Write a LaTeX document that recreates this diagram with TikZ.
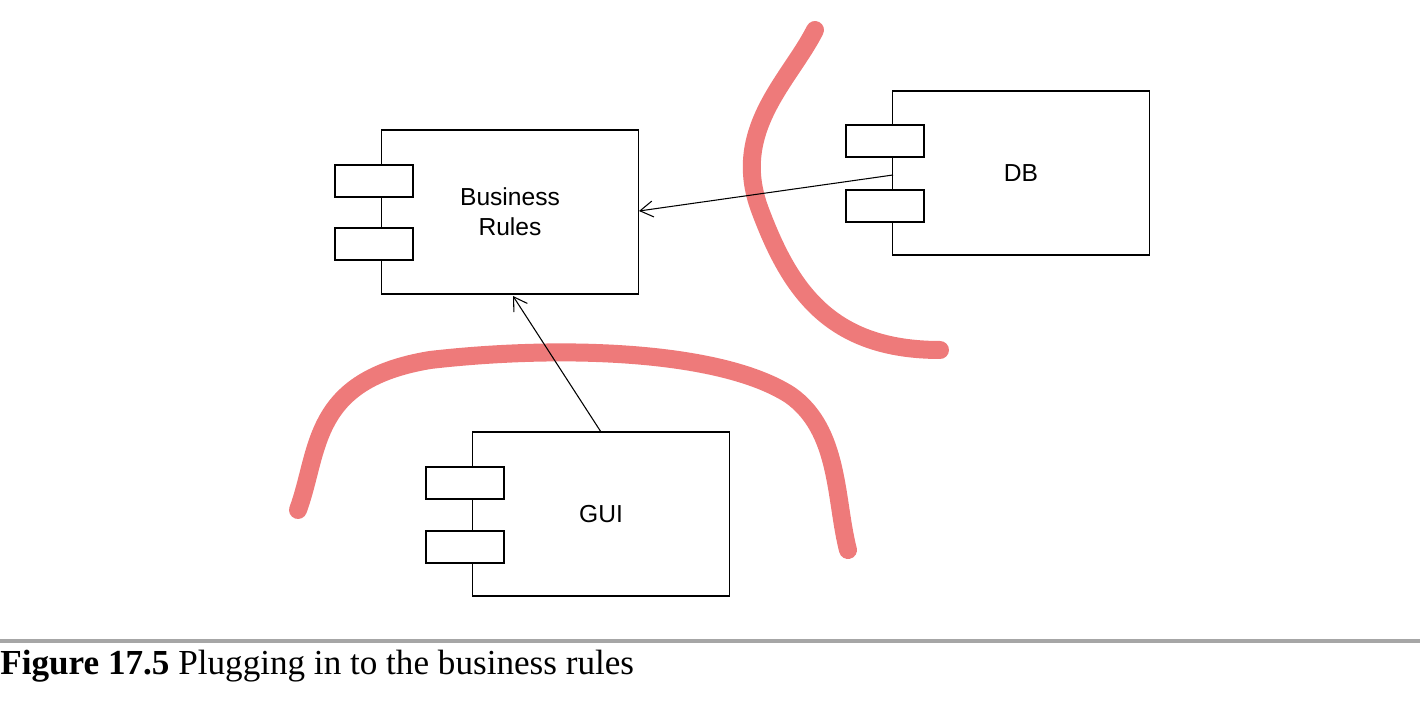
\documentclass[tikz,border=0pt]{standalone}
\usepackage{fontspec}
\setmainfont{Liberation Sans}
\newfontfamily\captionserif{Liberation Serif}
\usetikzlibrary{arrows.meta}
\usetikzlibrary{positioning}
\definecolor{marker}{RGB}{238,122,122}
\tikzstyle{arrow} = [-{Straight Barb[length=2.6mm,width=3.2mm]},semithick]
\tikzstyle{component} = [
    rectangle, minimum width=5.14cm, minimum height=3.28cm, draw=black, semithick,
    align=center, font=\fontsize{14}{17}\selectfont, fill=white]
\tikzstyle{port} = [
    rectangle, minimum width=1.56cm, minimum height=0.64cm, draw=black, semithick, fill=white]
\tikzstyle{boundary} = [line width=0.36cm, color=marker, line cap=round]
\begin{document}
\begin{tikzpicture}[x=0.02cm,y=-0.02cm]
\useasboundingbox (0,0) rectangle (1428,716);

% boundaries
\draw [boundary] (815,30) .. controls (790,80) and (730,130) .. (760,210)
    .. controls (790,290) and (830,350) .. (940,350);
\draw [boundary] (298,510) .. controls (320,450) and (310,380) .. (430,360)
    .. controls (560,345) and (720,350) .. (790,395)
    .. controls (840,430) and (835,500) .. (848,550);

% components
\node (rules) [component] at (510,212) {Business\\Rules};
\node (rules-port-a) [port] at (374,181) {};
\node (rules-port-b) [port] at (374,244) {};

\node (db) [component] at (1021,173) {DB};
\node (db-port-a) [port] at (885,141) {};
\node (db-port-b) [port] at (885,206) {};

\node (gui) [component] at (601,514) {GUI};
\node (gui-port-a) [port] at (465,483) {};
\node (gui-port-b) [port] at (465,547) {};

\coordinate (db-tail) at (893,175);
\coordinate (gui-tail) at (601,432);
\draw [arrow] (db-tail) -- (rules.east |- 0,211);
\draw [arrow] (gui-tail) -- (513,296);

% caption
\draw [line width=0.08cm, color=gray!70] (0,641) -- (1420,641);
\node (caption) [anchor=west, inner sep=0pt, font=\captionserif\fontsize{20}{24}\selectfont] at (0,666)
    {\textbf{Figure 17.5} Plugging in to the business rules};
\end{tikzpicture}
\end{document}
